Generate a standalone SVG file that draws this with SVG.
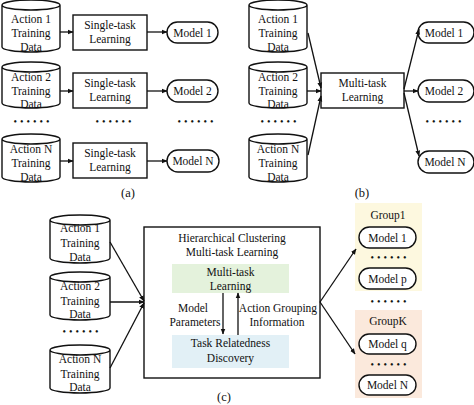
<svg xmlns="http://www.w3.org/2000/svg" width="474" height="405" viewBox="0 0 474 405">
<defs>
<style>
text{font-family:"Liberation Serif","Times New Roman",serif;font-size:11.5px;fill:#111;text-anchor:middle}
.cyl,.box,.oval{fill:#fff;stroke:#111;stroke-width:1.4}
.dots{font-size:10px;letter-spacing:3px}
.cn line,.cn path{stroke:#111;stroke-width:1.3;fill:none}
.lab{font-size:12.5px}
</style>
<marker id="ah" viewBox="0 0 10 10" refX="9" refY="5" markerWidth="6" markerHeight="6" orient="auto" markerUnits="userSpaceOnUse">
<path d="M0,1 L10,5 L0,9 z" fill="#111"/>
</marker>
</defs>
<rect width="474" height="405" fill="#fff"/>

<!-- Panel (a) -->
<g id="a-cyl1"><path class="cyl" d="M2,5 L2,47 A29,5 0 0 0 60,47 L60,5 A29,5 0 0 0 2,5 A29,5 0 0 0 60,5"/><text x="31" y="23">Action 1</text><text x="31" y="37">Training</text><text x="31" y="51">Data</text></g>
<g id="a-cyl2"><path class="cyl" d="M2,67 L2,103 A29,5 0 0 0 60,103 L60,67 A29,5 0 0 0 2,67 A29,5 0 0 0 60,67"/><text x="31" y="81">Action 2</text><text x="31" y="95">Training</text><text x="31" y="108">Data</text></g>
<g id="a-cylN"><path class="cyl" d="M2,139 L2,177 A29,5 0 0 0 60,177 L60,139 A29,5 0 0 0 2,139 A29,5 0 0 0 60,139"/><text x="31" y="153">Action N</text><text x="31" y="167">Training</text><text x="31" y="181">Data</text></g>
<text class="dots" x="33" y="125">••••••</text>

<g id="a-st1"><rect class="box" x="73" y="15" width="74" height="35"/><text x="110" y="29">Single-task</text><text x="110" y="43">Learning</text></g>
<g id="a-st2"><rect class="box" x="73" y="73" width="74" height="35"/><text x="110" y="87">Single-task</text><text x="110" y="101">Learning</text></g>
<g id="a-stN"><rect class="box" x="73" y="143" width="74" height="35"/><text x="110" y="157">Single-task</text><text x="110" y="171">Learning</text></g>
<text class="dots" x="115" y="125">••••••</text>

<g id="a-m1"><rect class="oval" x="167" y="22" width="51" height="21" rx="10.5"/><text x="192.5" y="36.5">Model 1</text></g>
<g id="a-m2"><rect class="oval" x="167" y="80" width="51" height="22" rx="11"/><text x="192.5" y="95">Model 2</text></g>
<g id="a-mN"><rect class="oval" x="167" y="150" width="52" height="22" rx="11"/><text x="193" y="165">Model N</text></g>
<text class="dots" x="197" y="125">••••••</text>
<text class="lab" x="128" y="197">(a)</text>

<!-- Panel (b) -->
<g id="b-cyl1"><path class="cyl" d="M249,5 L249,47 A29,5 0 0 0 307,47 L307,5 A29,5 0 0 0 249,5 A29,5 0 0 0 307,5"/><text x="278" y="23">Action 1</text><text x="278" y="37">Training</text><text x="278" y="51">Data</text></g>
<g id="b-cyl2"><path class="cyl" d="M249,67 L249,103 A29,5 0 0 0 307,103 L307,67 A29,5 0 0 0 249,67 A29,5 0 0 0 307,67"/><text x="278" y="81">Action 2</text><text x="278" y="95">Training</text><text x="278" y="108">Data</text></g>
<g id="b-cylN"><path class="cyl" d="M249,139 L249,177 A29,5 0 0 0 307,177 L307,139 A29,5 0 0 0 249,139 A29,5 0 0 0 307,139"/><text x="278" y="153">Action N</text><text x="278" y="167">Training</text><text x="278" y="181">Data</text></g>
<text class="dots" x="280" y="125">••••••</text>

<g id="b-mt"><rect class="box" x="321" y="73" width="83" height="35"/><text x="362.5" y="87">Multi-task</text><text x="362.5" y="101">Learning</text></g>

<g id="b-m1"><rect class="oval" x="418" y="22" width="56" height="21" rx="10.5"/><text x="444" y="36.5">Model 1</text></g>
<g id="b-m2"><rect class="oval" x="418" y="80" width="56" height="22" rx="11"/><text x="444" y="95">Model 2</text></g>
<g id="b-mN"><rect class="oval" x="418" y="151" width="56" height="22" rx="11"/><text x="445" y="166">Model N</text></g>
<text class="dots" x="445" y="125">••••••</text>
<text class="lab" x="362" y="197">(b)</text>

<!-- Panel (c) -->
<g id="c-cyl1"><path class="cyl" d="M50,220 L50,258 A30,5 0 0 0 110,258 L110,220 A30,5 0 0 0 50,220 A30,5 0 0 0 110,220"/><text x="80" y="232">Action 1</text><text x="80" y="247">Training</text><text x="80" y="261">Data</text></g>
<g id="c-cyl2"><path class="cyl" d="M50,277 L50,315 A30,5 0 0 0 110,315 L110,277 A30,5 0 0 0 50,277 A30,5 0 0 0 110,277"/><text x="80" y="290">Action 2</text><text x="80" y="305">Training</text><text x="80" y="318">Data</text></g>
<g id="c-cylN"><path class="cyl" d="M50,350 L50,388 A30,5 0 0 0 110,388 L110,350 A30,5 0 0 0 50,350 A30,5 0 0 0 110,350"/><text x="80" y="363">Action N</text><text x="80" y="378">Training</text><text x="80" y="391">Data</text></g>
<text class="dots" x="82" y="335">••••••</text>

<g id="c-hc">
<rect class="box" x="144" y="227" width="176" height="151"/>
<text x="232" y="242">Hierarchical Clustering</text>
<text x="232" y="256">Multi-task Learning</text>
</g>
<g id="c-mtl"><rect x="172" y="264" width="117" height="29" fill="#e4f2dc"/><text x="230.5" y="276">Multi-task</text><text x="230.5" y="290">Learning</text></g>
<g id="c-trd"><rect x="172" y="335" width="117" height="33" fill="#e2f0f6"/><text x="230.5" y="347">Task Relatedness</text><text x="230.5" y="362">Discovery</text></g>
<text x="193" y="312">Model</text>
<text x="195" y="326">Parameters</text>
<text x="278" y="312">Action Grouping</text>
<text x="277" y="326">Information</text>

<g id="c-g1">
<rect x="355" y="203" width="67" height="88" fill="#fdf8df"/>
<text x="388" y="219">Group1</text>
<rect class="oval" x="359" y="227" width="57" height="21" rx="10.5"/><text x="387.5" y="241.5">Model 1</text>
<text class="dots" x="390" y="261">••••••</text>
<rect class="oval" x="359" y="268" width="57" height="21" rx="10.5"/><text x="387.5" y="282.5">Model p</text>
</g>
<text class="dots" x="390" y="305">••••••</text>
<g id="c-gK">
<rect x="355" y="310" width="67" height="88" fill="#fbe9dc"/>
<text x="388" y="325">GroupK</text>
<rect class="oval" x="359" y="334" width="57" height="20" rx="10"/><text x="387.5" y="348">Model q</text>
<text class="dots" x="390" y="368">••••••</text>
<rect class="oval" x="359" y="375" width="57" height="20" rx="10"/><text x="387.5" y="389">Model N</text>
</g>
<text class="lab" x="224" y="401">(c)</text>

<!-- Connectors -->
<g class="cn" id="connectors">
<line x1="60" y1="32" x2="73" y2="32" marker-end="url(#ah)"/>
<line x1="60" y1="91" x2="73" y2="91" marker-end="url(#ah)"/>
<line x1="60" y1="161" x2="73" y2="161" marker-end="url(#ah)"/>
<line x1="147" y1="32" x2="167" y2="32" marker-end="url(#ah)"/>
<line x1="147" y1="91" x2="167" y2="91" marker-end="url(#ah)"/>
<line x1="147" y1="161" x2="167" y2="161" marker-end="url(#ah)"/>

<line x1="308" y1="33" x2="321" y2="88" marker-end="url(#ah)"/>
<line x1="307" y1="91" x2="321" y2="91" marker-end="url(#ah)"/>
<line x1="308" y1="155" x2="321" y2="96" marker-end="url(#ah)"/>
<line x1="404" y1="89" x2="419" y2="29" marker-end="url(#ah)"/>
<line x1="404" y1="91" x2="418" y2="91" marker-end="url(#ah)"/>
<line x1="404" y1="93" x2="419" y2="156" marker-end="url(#ah)"/>

<line x1="110" y1="242" x2="144" y2="301" marker-end="url(#ah)"/>
<line x1="110" y1="302" x2="144" y2="302" marker-end="url(#ah)"/>
<line x1="110" y1="368" x2="144" y2="303" marker-end="url(#ah)"/>

<line x1="223" y1="293" x2="223" y2="334" marker-end="url(#ah)"/>
<line x1="238" y1="335" x2="238" y2="293" marker-end="url(#ah)"/>

<line x1="320" y1="302" x2="356" y2="249" marker-end="url(#ah)"/>
<line x1="320" y1="302" x2="355" y2="354" marker-end="url(#ah)"/>
</g>
</svg>
